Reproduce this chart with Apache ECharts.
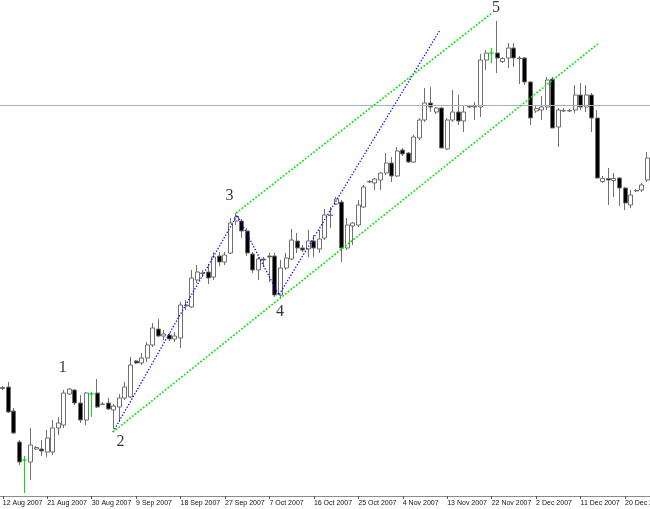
<!DOCTYPE html>
<html><head><meta charset="utf-8">
<script src="https://cdn.jsdelivr.net/npm/echarts@6/dist/echarts.min.js"></script>
<style>html,body{margin:0;padding:0;background:#fff}#c{width:650px;height:509px}</style>
</head><body><div id="c"></div>
<script>
// Axis tick labels (one every 8 bars)
const tickLabels = ["12 Aug 2007","21 Aug 2007","30 Aug 2007","9 Sep 2007","18 Sep 2007","27 Sep 2007","7 Oct 2007","16 Oct 2007","25 Oct 2007","4 Nov 2007","13 Nov 2007","22 Nov 2007","2 Dec 2007","11 Dec 2007","20 Dec 2007"];

// OHLC values (chart units)
const opens = [
108.5,109,85,54,36,34,47,47,44,44,
68,71,102,106,93,76,102,103,92,93,
86,89,98,99,135,133,138,151,167,160,
161,157,158,190,189,216,223,224,219,240,
234,243,275,275,265,242,226,237,240,240,
201,228,237,255,248,247,255,247,258,281,
292,294,248,270,271,289,314.5,313,316,323,
333,320,346,343,334,358,376,393,384,388,
347,376,384,375,389.5,389.5,389,436,443,443,
434.5,438,448,438,438,414,385,386,389,417,
369,385.5,385.5,386,401,389,401,378,314.5,317.5,
315.5,318,308,291,305,306,316];
const closes = [
107.5,84,63,34,36,51,48.5,45,58,68,
73,103,107,93,76,103,102,89,91.5,87,
90,98,109,131,133,138,151,168,160,162,
157,160,191,191,218,224,222.5,218,239,234,
241,273,279,265,243,226,237,236,239,201,
228,238,256,248,246,255,248,257,281,280.5,
297,248,271,273,291,309,314,317,323,333,
320,345,342,334,359,376,393,389,388,348,
376,384,375,384,389,389,436,443,443,438,
437.5,448,438,437.5,414,378,387.5,389,416,368,
386,385,385,401,389,401,378,318,317.5,316,
317.5,308,293,301,305.5,311,338];
const highs = [
110,114,88,56,40,68,50,56,66,76,
79,106,108,107,101,104,104,117,94,98,
92,102,114,139,136,143,154,173,177,166,
163,164,194,196,226,231,226,232,244,244,
244,278,283,277,268,244,239,239,243,243,
236,243,267,263,251,266,261,266,287,289,
299,296,278,274,296,311,316,318,324,343,
339,349,348,344,361,378,408,409,389,389,
378,406,401,391,391,394,442,446,448,475,
439,453,453,440,439,415,391,400,419,419,
388,388,387,411,413,411,403,386,320,328,
323,319,309,306,307,313,344];
const lows = [
106,83,62,31,3,16,46,40,39,41,
61,68,101,91,73,71,79,88,91,86,
67,74,96,98,132,131,134,149,159,156,
155,154,148,186,188,213,219,212,216,230,
231,242,271,258,240,223,216,229,214,199,
198,226,236,243,244,239,239,243,256,268,
291,234,246,251,269,288,313,306,306,321,
314,319,340,333,333,356,374,384,382,348,
346,374,371,364,388,376,379,426,433,423,
433,428,429,412,411,371,383,376,386,368,
349,384,384,383,386,384,364,317,313,291,
299,290,286,288,304,304,314];

// Trend lines (bar index, value)
const blueLineX = [19.84, 42.2, 49.7, 78.7];
const blueLineY = [64, 281, 201, 466];
const greenUpperX = [42.0, 88.05];
const greenUpperY = [283, 483];
const greenLowerX = [19.84, 107.1];
const greenLowerY = [64, 452];
const hLineLevel = [390.5];

// Wave labels
const waveText = ["1","2","3","4","5"];
const waveX = [10.8, 21.2, 40.8, 49.9, 88.8];
const waveY = [128, 54, 300.5, 184, 488];

// calendar: daily bars Sun-Fri
const categories = [];
let d = new Date(Date.UTC(2007,7,12));
while (categories.length < opens.length) {
  if (d.getUTCDay() !== 6) categories.push(d.toISOString().slice(0,10));
  d = new Date(d.getTime() + 86400000);
}
const N = categories.length;
const candleData = opens.map((o,i) => [o, closes[i], lows[i], highs[i]]);
const zip = (xs, ys) => xs.map((x,i) => [x, ys[i]]);
const every8 = (i) => i % 8 === 0;

const chart = echarts.init(document.getElementById('c'), null, {renderer:'canvas'});
chart.setOption({
  animation: false,
  backgroundColor: '#ffffff',
  grid: {left: 0, right: 0, top: 0, bottom: 12, containLabel: false, outerBoundsMode: 'none'},
  xAxis: [{
    type: 'category', data: categories, boundaryGap: true,
    axisLine: {show: true, lineStyle: {color: '#8c8c8c', width: 1}},
    axisTick: {show: true, alignWithLabel: true, interval: every8, length: 3, lineStyle: {color: '#555'}},
    axisLabel: {show: true, interval: every8, align: 'left', margin: 3, fontSize: 7,
      fontFamily: 'Liberation Sans', color: '#111', hideOverlap: false,
      formatter: (v, i) => tickLabels[i / 8] || ''},
    splitLine: {show: false}
  }, {
    type: 'value', min: -0.5, max: N - 0.5, show: false, splitLine: {show: false}
  }],
  yAxis: {type: 'value', min: -1, max: 496, show: false, splitLine: {show: false}},
  series: [{
    type: 'candlestick', data: candleData, barWidth: 4.5, z: 2,
    itemStyle: {color: '#ffffff', color0: '#000000', borderColor: '#707070', borderColor0: '#707070',
      borderColorDoji: '#00e600', borderWidth: 1},
    markLine: {silent: true, symbol: 'none', label: {show: false},
      lineStyle: {color: '#a3b2c2', width: 1, type: 'solid'},
      data: hLineLevel.map(v => ({yAxis: v}))}
  }, {
    type: 'line', xAxisIndex: 1, data: zip(blueLineX, blueLineY), symbol: 'none', z: 5,
    lineStyle: {color: '#0000ff', width: 1.3, type: [1.3, 1.8]}
  }, {
    type: 'line', xAxisIndex: 1, data: zip(greenUpperX, greenUpperY), symbol: 'none', z: 5,
    lineStyle: {color: '#00e600', width: 1.7, type: [1.7, 1.8]}
  }, {
    type: 'line', xAxisIndex: 1, data: zip(greenLowerX, greenLowerY), symbol: 'none', z: 5,
    lineStyle: {color: '#00e600', width: 1.7, type: [1.7, 1.8]}
  }, {
    type: 'scatter', xAxisIndex: 1, symbolSize: 1, z: 6,
    itemStyle: {color: 'rgba(0,0,0,0)'},
    data: waveX.map((x,i) => ({value: [x, waveY[i]], name: waveText[i]})),
    label: {show: true, position: 'inside', formatter: p => p.name,
      fontFamily: 'Liberation Serif', fontSize: 16, color: '#000'}
  }]
});
</script></body></html>
